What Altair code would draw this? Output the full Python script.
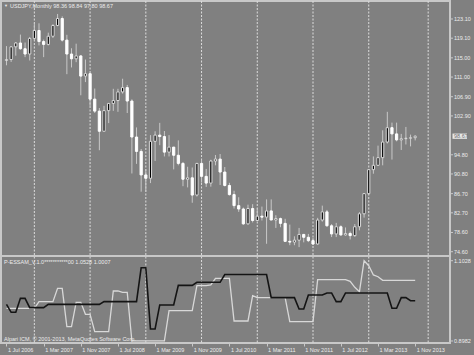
import altair as alt
import pandas as pd

# ---------------- data ----------------
# monthly bars, Jul 2006 .. Nov 2013
opens = [114.45, 114.65, 117.30, 118.10, 116.90, 115.80, 119.05, 120.70, 118.40, 117.80,
         119.50, 121.75, 123.20, 118.70, 115.80, 114.80, 115.40, 111.20, 111.70, 106.40,
         103.90, 99.70, 104.00, 105.50, 106.10, 107.90, 108.80, 106.00, 98.50, 95.50,
         90.60, 89.90, 97.60, 98.90, 98.60, 95.35, 96.40, 94.70, 93.00, 89.70,
         90.00, 86.40, 93.00, 90.30, 88.90, 93.50, 93.90, 91.20, 88.40, 86.50,
         84.20, 83.50, 80.40, 83.60, 81.10, 82.00, 81.80, 83.10, 81.20, 81.50,
         80.50, 76.75, 76.60, 77.00, 78.20, 77.60, 76.90, 76.20, 81.20, 82.90,
         80.00, 78.30, 79.80, 78.10, 78.40, 77.95, 79.80, 82.50, 86.70, 91.70,
         92.60, 94.20, 97.45, 100.45, 99.15, 97.90, 98.15, 98.25, 98.36]
highs = [117.45, 117.45, 118.30, 119.85, 118.20, 119.35, 122.20, 122.20, 118.80, 120.25,
         122.00, 124.15, 123.65, 119.80, 117.00, 117.95, 115.60, 114.65, 111.75, 108.60,
         104.55, 105.00, 105.55, 108.55, 108.55, 110.65, 109.35, 106.35, 100.50, 96.00,
         91.80, 98.90, 99.70, 101.45, 99.75, 98.90, 96.40, 97.80, 93.30, 92.30,
         92.15, 93.10, 93.75, 91.85, 93.75, 94.75, 94.95, 92.25, 88.95, 87.30,
         85.95, 83.80, 84.40, 84.50, 83.65, 84.00, 85.50, 85.50, 82.20, 81.70,
         81.45, 80.25, 77.80, 79.55, 78.30, 78.30, 77.45, 81.65, 84.20, 83.30,
         80.35, 80.60, 80.10, 79.65, 78.80, 80.35, 82.85, 86.75, 91.75, 94.45,
         96.70, 99.90, 103.75, 101.50, 101.50, 99.15, 100.60, 99.00, 98.84]
lows = [113.45, 114.15, 115.45, 116.70, 115.15, 114.45, 118.65, 117.60, 115.15, 117.60,
        119.15, 121.60, 118.40, 111.60, 113.00, 114.10, 107.20, 109.95, 104.95, 103.50,
        95.75, 99.70, 101.40, 103.95, 103.75, 107.55, 103.50, 90.90, 92.90, 87.10,
        87.10, 88.90, 93.50, 96.80, 94.45, 94.45, 91.75, 92.60, 88.25, 88.00,
        84.80, 86.10, 89.00, 88.10, 88.15, 92.60, 88.50, 88.20, 86.30, 83.60,
        82.90, 80.20, 80.25, 80.70, 81.10, 81.10, 76.25, 81.25, 79.55, 79.70,
        76.70, 75.95, 75.95, 75.55, 76.55, 76.60, 76.00, 76.10, 80.85, 79.80,
        77.65, 77.65, 77.90, 77.95, 77.15, 77.70, 79.05, 81.70, 86.55, 90.85,
        92.55, 92.60, 97.15, 93.80, 97.60, 95.80, 96.95, 96.55, 97.80]
closes = [114.65, 117.30, 118.10, 116.90, 115.80, 119.05, 120.70, 118.40, 117.80, 119.50,
          121.75, 123.20, 118.70, 115.80, 114.80, 115.40, 111.20, 111.70, 106.40, 103.90,
          99.70, 104.00, 105.50, 106.10, 107.90, 108.80, 106.00, 98.50, 95.50, 90.60,
          89.90, 97.60, 98.90, 98.60, 95.35, 96.40, 94.70, 93.00, 89.70, 90.00,
          86.40, 93.00, 90.30, 88.90, 93.50, 93.90, 91.20, 88.40, 86.50, 84.20,
          83.50, 80.40, 83.60, 81.10, 82.00, 81.80, 83.10, 81.20, 81.50, 80.50,
          76.75, 76.60, 77.00, 78.20, 77.60, 76.90, 76.20, 81.20, 82.90, 80.00,
          78.30, 79.80, 78.10, 78.40, 77.95, 79.80, 82.50, 86.70, 91.70, 92.60,
          94.20, 97.45, 100.45, 99.15, 97.90, 98.15, 98.25, 98.35, 98.67]

# indicator window (P-ESSAM), two buffers
white_line = [0.9815, 0.9815, 0.9815, 0.9815, 0.9815, 0.9815, 0.9815, 0.9984, 0.9984, 0.9984,
              0.9984, 1.0324, 1.0324, 0.9348, 0.9348, 0.9967, 0.9967, 0.9662, 0.9662, 0.9220,
              0.9220, 0.9220, 0.9220, 1.0256, 1.0256, 1.0222, 1.0222, 0.8983, 0.8983, 0.8983,
              0.8983, 0.8983, 0.8983, 0.8983, 0.8983, 0.9755, 0.9755, 0.9755, 0.9755, 0.9755,
              0.9755, 1.0392, 1.0392, 1.0392, 1.0409, 1.0579, 1.0579, 1.0579, 1.0579, 0.9492,
              0.9492, 0.9492, 0.9492, 1.0137, 1.0086, 1.0086, 1.0086, 1.0086, 1.0086, 1.0086,
              1.0086, 0.9475, 0.9475, 0.9475, 0.9475, 0.9475, 0.9475, 1.0545, 1.0545, 1.0545,
              1.0545, 1.0545, 1.0545, 1.0545, 1.0500, 1.0350, 1.0238, 1.1028, 1.0900, 1.0664,
              1.0620, 1.0528, 1.0528, 1.0528, 1.0528, 1.0528, 1.0528, 1.0528, 1.0528]
black_line = [0.9916, 0.9713, 0.9713, 1.0069, 1.0069, 0.9832, 0.9832, 0.9832, 0.9832, 0.9916,
              0.9916, 0.9916, 0.9916, 0.9916, 0.9916, 0.9916, 0.9916, 0.9916, 0.9916, 0.9916,
              0.9916, 0.9984, 0.9984, 0.9984, 0.9984, 0.9984, 0.9984, 0.9984, 0.9984, 1.0850,
              1.0850, 0.9288, 0.9288, 0.9900, 0.9900, 0.9900, 0.9900, 1.0400, 1.0400, 1.0400,
              1.0400, 1.0477, 1.0477, 1.0477, 1.0477, 1.0477, 1.0477, 1.0675, 1.0675, 1.0675,
              1.0675, 1.0675, 1.0675, 1.0675, 1.0675, 1.0675, 1.0675, 1.0086, 1.0086, 1.0086,
              1.0086, 1.0086, 1.0086, 0.9798, 0.9798, 1.0154, 1.0154, 1.0154, 1.0154, 1.0205,
              1.0205, 0.9984, 0.9984, 1.0205, 1.0205, 1.0205, 1.0205, 1.0205, 1.0205, 1.0205,
              1.0205, 1.0205, 1.0205, 0.9815, 0.9815, 1.0086, 1.0086, 1.0007, 1.0007]

x_label_idx = [0, 8, 16, 24, 32, 40, 48, 56, 64, 72, 80, 88]
x_labels = ["1 Jul 2006", "1 Mar 2007", "1 Nov 2007", "1 Jul 2008", "1 Mar 2009",
            "1 Nov 2009", "1 Jul 2010", "1 Mar 2011", "1 Nov 2011", "1 Jul 2012",
            "1 Mar 2013", "1 Nov 2013"]
grid_idx = [6, 18, 30, 42, 54, 66, 78, 90.8]
price_ticks = [123.10, 119.10, 115.00, 111.00, 106.90, 102.90, 94.80, 90.80,
               86.70, 82.70, 78.60, 74.60]
bid_price = 98.67
ind_ticks = [1.1028, 0.8982]
header = "USDJPY,Monthly  98.36 98.84 97.80 98.67"
ind_header = "P-ESSAM_V.1.0***********00 1.0528 1.0007"
copyright_txt = "Alpari ICM, \u00a9 2001-2013, MetaQuotes Software Corp."

# ---------------- styling ----------------
FONT = "Liberation Sans"
FS = 5.5
TXT = "#ececec"
BG = "#808080"
FRAME = "#c8c8c8"

n = len(opens)
idx = list(range(n))
candles = pd.DataFrame({"i": idx, "o": opens, "h": highs, "l": lows, "c": closes})
candles["dir"] = ["bull" if c > o else "bear" for o, c in zip(opens, closes)]
ind = pd.DataFrame({"i": idx, "w": white_line, "b": black_line})

xscale = alt.Scale(domain=[-0.1053, 94.421], range=[0, 449], nice=False, zero=False)
ytop = alt.Scale(domain=[73.91, 126.85], range=[254, 0], nice=False, zero=False)
ybot = alt.Scale(domain=[0.8931, 1.1122], range=[342, 256], nice=False, zero=False)

idx_js = "[" + ",".join(str(v) for v in x_label_idx) + "]"
lab_js = "[" + ",".join("'" + s + "'" for s in x_labels) + "]"
xaxis = alt.Axis(values=x_label_idx, labelExpr=f"{lab_js}[indexof({idx_js}, datum.value)]",
                 orient="bottom", labelAlign="left", labelBaseline="top", labelOffset=1,
                 tickSize=3, tickColor=FRAME, labelPadding=1, domain=False, grid=False,
                 labelOverlap=False, labelFlush=False, labelBound=False, title=None,
                 labelColor=TXT, labelFont=FONT, labelFontSize=FS)

# x axis is carried by the wick layer only; other layers leave it unspecified
grid = alt.Chart(pd.DataFrame({"g": grid_idx})).mark_rule(
    color="#dcdcdc", strokeDash=[2, 1.5], strokeWidth=1
).encode(x=alt.X("g:Q", scale=xscale))

wicks = alt.Chart(candles).mark_rule(color="#c8c8c8", strokeWidth=1).encode(
    x=alt.X("i:Q", scale=xscale, axis=xaxis),
    y=alt.Y("l:Q", scale=ytop, axis=None),
    y2="h:Q",
)

bodies = alt.Chart(candles).mark_bar(size=2.2, strokeWidth=1).encode(
    x=alt.X("i:Q", scale=xscale),
    y=alt.Y("o:Q", scale=ytop, axis=None),
    y2="c:Q",
    fill=alt.Fill("dir:N", scale=alt.Scale(domain=["bull", "bear"], range=["#000000", "#ffffff"]), legend=None),
    stroke=alt.Stroke("dir:N", scale=alt.Scale(domain=["bull", "bear"], range=["#dcdcdc", "#ffffff"]), legend=None),
)

# price scale labels on the right
pt_df = pd.DataFrame({"v": price_ticks, "t": [f"{v:.2f}" for v in price_ticks]})
price_lab = alt.Chart(pt_df).mark_text(align="left", baseline="middle", font=FONT, fontSize=FS,
                                       color=TXT).encode(
    x=alt.value(453), y=alt.Y("v:Q", scale=ytop, axis=None), text="t:N")
price_tck = alt.Chart(pt_df).mark_rule(color=FRAME).encode(
    x=alt.value(449), x2=alt.value(452), y=alt.Y("v:Q", scale=ytop, axis=None))

bid_df = pd.DataFrame({"p": [bid_price], "lo": [bid_price - 0.55], "hi": [bid_price + 0.55],
                       "t": [f"{bid_price:.2f}"]})
bid_box = alt.Chart(bid_df).mark_rect(fill="#e8e8e8").encode(
    x=alt.value(451.5), x2=alt.value(466),
    y=alt.Y("lo:Q", scale=ytop, axis=None), y2="hi:Q",
)
bid_txt = alt.Chart(bid_df).mark_text(align="left", baseline="middle", font=FONT, fontSize=FS,
                                      color="#707070").encode(
    x=alt.value(453), y=alt.Y("p:Q", scale=ytop, axis=None), text="t:N"
)

top = alt.layer(grid, wicks, bodies, price_tck, price_lab, bid_box, bid_txt)

wl = alt.Chart(ind).mark_line(color="#d8d8d8", strokeWidth=1.3).encode(
    x=alt.X("i:Q", scale=xscale), y=alt.Y("w:Q", scale=ybot, axis=None))
bl = alt.Chart(ind).mark_line(color="#141414", strokeWidth=1.6).encode(
    x=alt.X("i:Q", scale=xscale), y=alt.Y("b:Q", scale=ybot, axis=None))
ind_df = pd.DataFrame({"v": ind_ticks, "t": [f"{v:.4f}" for v in ind_ticks]})
ind_lab = alt.Chart(ind_df).mark_text(align="left", baseline="middle", font=FONT, fontSize=FS,
                                      color=TXT).encode(
    x=alt.value(453), y=alt.Y("v:Q", scale=ybot, axis=None), text="t:N")
ind_tck = alt.Chart(ind_df).mark_rule(color=FRAME).encode(
    x=alt.value(449), x2=alt.value(452), y=alt.Y("v:Q", scale=ybot, axis=None))

bottom = alt.layer(wl, bl, ind_lab, ind_tck)

one = pd.DataFrame({"a": [0]})
sep = alt.Chart(one).mark_rule(color=FRAME, strokeWidth=2).encode(y=alt.value(255))


def label(txt, x, y, size=FS, align="left"):
    return alt.Chart(pd.DataFrame({"t": [txt]})).mark_text(
        align=align, baseline="middle", font=FONT, fontSize=size, color=TXT
    ).encode(x=alt.value(x), y=alt.value(y), text="t:N")


t_tri = label("\u25bc", 5, 5, size=4, align="center")
t_head = label(header, 9, 5)
t_ind = label(ind_header, 3, 261)
t_copy = label(copyright_txt, 3, 337.5)

chart = alt.layer(top, bottom, sep, t_tri, t_head, t_ind, t_copy).resolve_scale(
    y="independent"
).properties(
    width=449, height=342,
    padding={"left": 1, "top": 1, "right": 24, "bottom": 12},
    autosize=alt.AutoSizeParams(type="none"),
    background=BG,
).configure_view(stroke=FRAME, strokeWidth=2).configure_axis(
    labelFont=FONT, labelFontSize=FS, labelColor=TXT
)

chart.save("out.html", embed_options={"renderer": "svg", "actions": False})
